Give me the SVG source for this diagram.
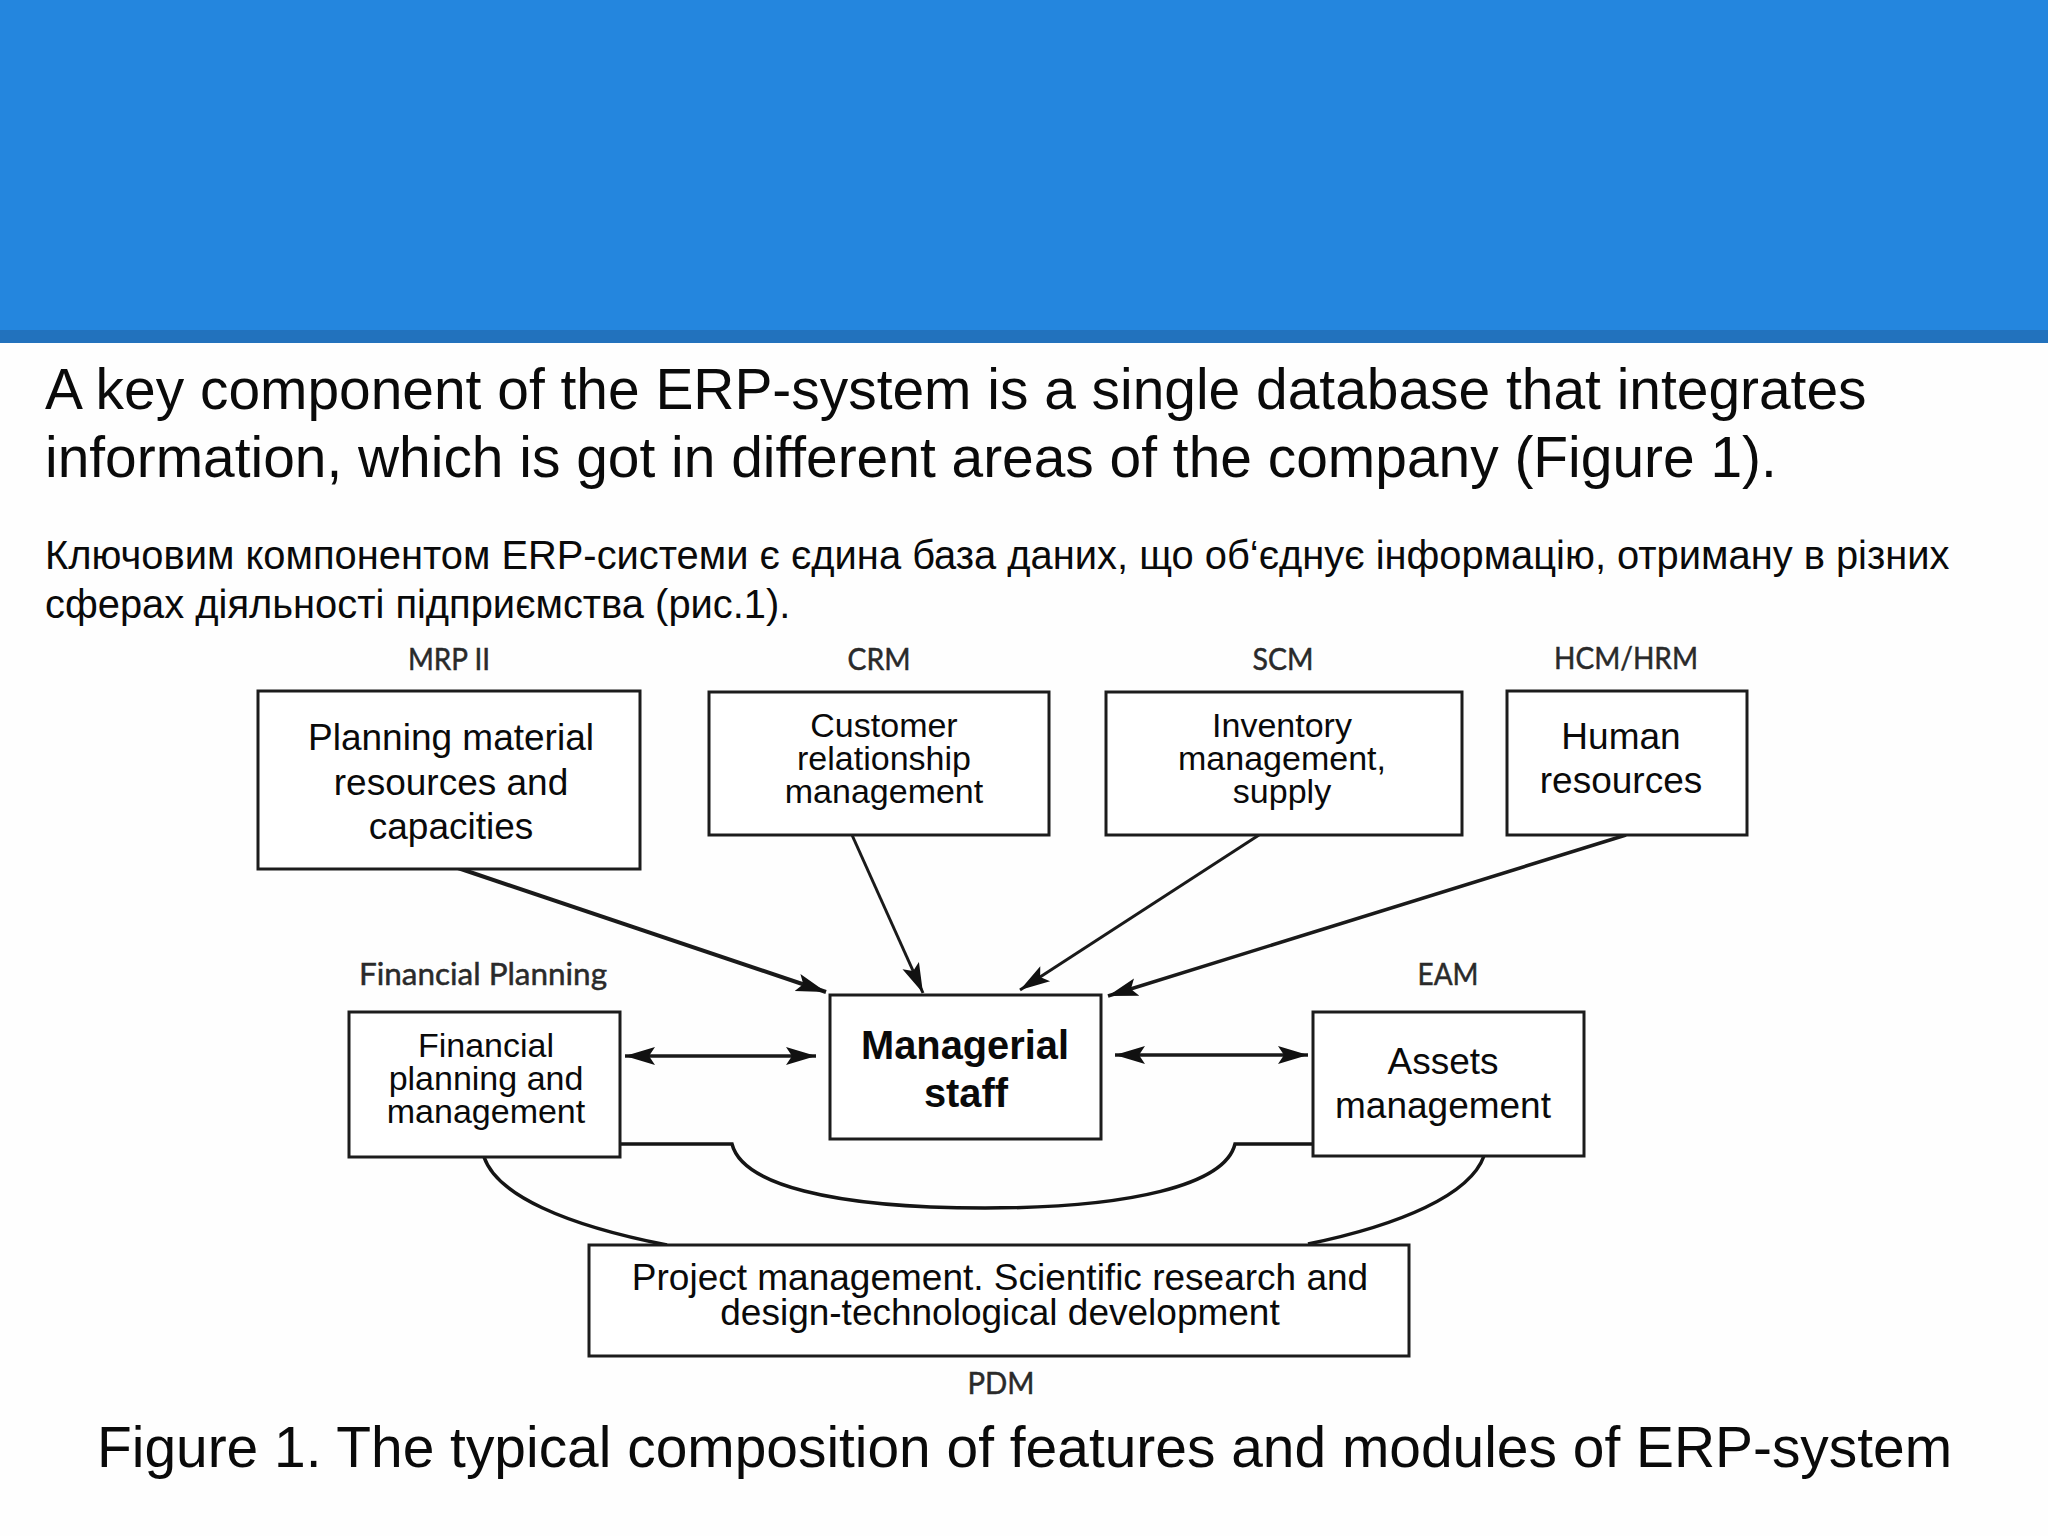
<svg xmlns="http://www.w3.org/2000/svg" width="2048" height="1536" viewBox="0 0 2048 1536">
<style>
text{font-family:"Liberation Sans",Arial,sans-serif;fill:#0a0a0a}
.h{font-size:56.9px}
.u{font-size:39.88px}
.n{font-size:37px;text-anchor:middle}
.s{font-size:34px;text-anchor:middle}
.b{font-size:39.8px;font-weight:bold;text-anchor:middle}
.l{font-family:"Lato","Open Sans",sans-serif;font-size:31px;text-anchor:middle;fill:#2a2a2a;stroke:#2a2a2a;stroke-width:.5}
.box{fill:#fff;stroke:#1c1c1c;stroke-width:3}
.c{fill:none;stroke:#151515;stroke-width:3.5}
.a{fill:none;stroke:#1a1a1a;stroke-width:3}
</style>
<defs>
<marker id="ah" markerUnits="userSpaceOnUse" markerWidth="32" markerHeight="22" refX="30" refY="10" orient="auto-start-reverse" viewBox="0 0 32 20">
<path d="M0 1L30 10L0 19L6 10Z" fill="#111"/>
</marker>
</defs>
<rect id="bg" width="2048" height="1536" fill="#fefefe"/>
<g id="header">
<rect width="2048" height="331" fill="#2486de"/>
<rect y="330" width="2048" height="13" fill="#2272bd"/>
</g>
<g id="intro">
<text class="h" x="45" y="409">A key component of the ERP-system is a single database that integrates</text>
<text class="h" x="45" y="477">information, which is got in different areas of the company (Figure 1).</text>
<text class="u" x="45" y="569">Ключовим компонентом ERP-системи є єдина база даних, що об‘єднує інформацію, отриману в різних</text>
<text class="u" x="45" y="618">сферах діяльності підприємства (рис.1).</text>
</g>
<g id="connectors">
<line class="a" x1="458" y1="868" x2="826" y2="992" style="stroke-width:4" marker-end="url(#ah)"/>
<line class="a" x1="852" y1="835" x2="923" y2="993" marker-end="url(#ah)"/>
<line class="a" x1="1259" y1="835" x2="1020" y2="990" marker-end="url(#ah)"/>
<line class="a" x1="1626" y1="835" x2="1108" y2="996" style="stroke-width:3.5" marker-end="url(#ah)"/>
<line class="a" x1="625" y1="1056" x2="816" y2="1056" style="stroke-width:3.5" marker-start="url(#ah)" marker-end="url(#ah)"/>
<line class="a" x1="1115" y1="1055" x2="1308" y2="1055" style="stroke-width:3.5" marker-start="url(#ah)" marker-end="url(#ah)"/>
<path class="c" d="M620 1144H732C742 1184 830 1208 985 1208C1130 1208 1225 1185 1235 1144H1313"/>
<path class="c" d="M484 1157C497 1195 565 1225 667 1245"/>
<path class="c" d="M1484 1156C1470 1195 1400 1225 1308 1244"/>
</g>
<g id="node-mrp">
<rect class="box" x="258" y="691" width="382" height="178"/>
<text class="l" x="449" y="670" textLength="82" lengthAdjust="spacingAndGlyphs">MRP II</text>
<text class="n" x="451" y="750">Planning material</text>
<text class="n" x="451" y="795">resources and</text>
<text class="n" x="451" y="839">capacities</text>
</g>
<g id="node-crm">
<rect class="box" x="709" y="692" width="340" height="143"/>
<text class="l" x="879" y="670" textLength="63" lengthAdjust="spacingAndGlyphs">CRM</text>
<text class="s" x="884" y="737">Customer</text>
<text class="s" x="884" y="770">relationship</text>
<text class="s" x="884" y="803">management</text>
</g>
<g id="node-scm">
<rect class="box" x="1106" y="692" width="356" height="143"/>
<text class="l" x="1283" y="670" textLength="61" lengthAdjust="spacingAndGlyphs">SCM</text>
<text class="s" x="1282" y="737">Inventory</text>
<text class="s" x="1282" y="770">management,</text>
<text class="s" x="1282" y="803">supply</text>
</g>
<g id="node-hcm">
<rect class="box" x="1507" y="691" width="240" height="144"/>
<text class="l" x="1626" y="669" textLength="144" lengthAdjust="spacingAndGlyphs">HCM/HRM</text>
<text class="n" x="1621" y="749">Human</text>
<text class="n" x="1621" y="793">resources</text>
</g>
<g id="node-fin">
<rect class="box" x="349" y="1012" width="271" height="145"/>
<text class="l" x="483" y="985" textLength="248" lengthAdjust="spacingAndGlyphs">Financial Planning</text>
<text class="s" x="486" y="1057">Financial</text>
<text class="s" x="486" y="1090">planning and</text>
<text class="s" x="486" y="1123">management</text>
</g>
<g id="node-staff">
<rect class="box" x="830" y="995" width="271" height="144"/>
<text class="b" x="965" y="1059">Managerial</text>
<text class="b" x="966" y="1107">staff</text>
</g>
<g id="node-eam">
<rect class="box" x="1313" y="1012" width="271" height="144"/>
<text class="l" x="1448" y="985" textLength="61" lengthAdjust="spacingAndGlyphs">EAM</text>
<text class="n" x="1443" y="1074">Assets</text>
<text class="n" x="1443" y="1118">management</text>
</g>
<g id="node-pdm">
<rect class="box" x="589" y="1245" width="820" height="111"/>
<text class="n" x="1000" y="1290">Project management. Scientific research and</text>
<text class="n" x="1000" y="1325">design-technological development</text>
<text class="l" x="1001" y="1394" textLength="67" lengthAdjust="spacingAndGlyphs">PDM</text>
</g>
<text id="caption" class="h" x="97" y="1467">Figure 1. The typical composition of features and modules of ERP-system</text>
</svg>
